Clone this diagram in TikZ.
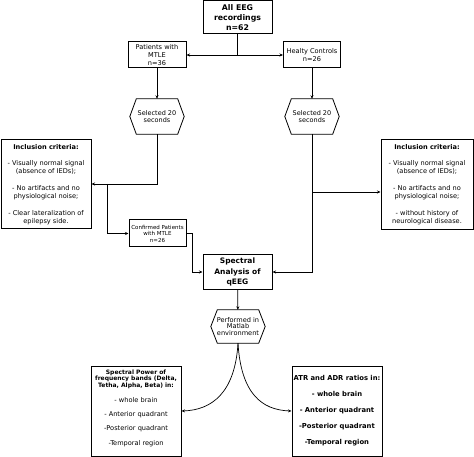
\documentclass[tikz,border=0pt]{standalone}
\usepackage{fontspec}
\setmainfont{DejaVu Sans}
\usepackage{tikz}
\usetikzlibrary {arrows.meta}
\pgfmathsetmacro{\cut}{6.5}
\tikzset{
	box/.style = {draw, line width = 1pt, inner sep = 1pt, align = center},
	hexbox/.style = {inner sep = 0pt, align = center, minimum width = 54pt},
	wire/.style = {line width = .7pt},
	flow/.style = {line width = .7pt, arrows = {-Stealth[length = 3.5pt, width = 3pt]}},
}
\newcommand{\drawhex}[1]{\draw[line width = .8pt] (#1.west) -- ([xshift = \cut pt]#1.north west) -- ([xshift = -\cut pt]#1.north east) -- (#1.east) -- ([xshift = -\cut pt]#1.south east) -- ([xshift = \cut pt]#1.south west) -- cycle;}
\newcommand{\boxhead}[1]{{\fontsize{6}{6.7}\selectfont\bfseries #1}}

\begin{document}
\begin{tikzpicture}[x = 1pt, y = -1pt]
		\useasboundingbox (0, 0) rectangle (474, 457);

		\node[box, minimum width = 69pt, minimum height = 33pt, font = \fontsize{7.8}{10}\selectfont\bfseries] (all) at (237.5, 17.5) {All EEG\\recordings\\n=62};
		\node[box, minimum width = 58pt, minimum height = 26pt, font = \fontsize{6.6}{8.2}\selectfont] (patients) at (157, 55) {Patients with\\MTLE\\n=36};
		\node[box, minimum width = 57pt, minimum height = 26pt, font = \fontsize{6.6}{8.2}\selectfont] (healthy) at (312, 55) {Healty Controls\\n=26};

		\node[hexbox, minimum height = 35pt, font = \fontsize{6.5}{7.8}\selectfont] (selP) at (157, 116.5) {Selected 20\\seconds};
		\node[hexbox, minimum height = 35pt, font = \fontsize{6.5}{7.8}\selectfont] (selH) at (312, 116.5) {Selected 20\\seconds};
		\drawhex{selP}
		\drawhex{selH}

		\node[box, minimum width = 90pt, minimum height = 89pt, font = \fontsize{6.6}{8.3}\selectfont] (inclP) at (46, 184.5) {\textbf{Inclusion criteria:}\\[7.7pt]- Visually normal signal\\(absence of IEDs);\\[8.4pt]- No artifacts and no\\physiological noise;\\[8.4pt]- Clear lateralization of\\epilepsy side.};
		\node[box, minimum width = 92pt, minimum height = 90pt, font = \fontsize{6.6}{8.3}\selectfont] (inclH) at (427, 185) {\textbf{Inclusion criteria:}\\[7.7pt]- Visually normal signal\\(absence of IEDs);\\[8.4pt]- No artifacts and no\\physiological noise;\\[8.4pt]- without history of\\neurological disease.};

		\node[box, minimum width = 57pt, minimum height = 27pt, font = \fontsize{5.5}{6.5}\selectfont] (confirmed) at (157.5, 233.5) {Confirmed Patients\\with MTLE\\n=26};
		\node[box, minimum width = 69pt, minimum height = 34pt, font = \fontsize{7.5}{10.5}\selectfont\bfseries] (spectral) at (237.5, 272) {Spectral\\Analysis of\\qEEG};

		\node[hexbox, minimum height = 33pt, font = \fontsize{6.6}{6.8}\selectfont] (matlab) at (238, 326.5) {Performed in\\Matlab\\environment};
		\drawhex{matlab}

		\node[box, minimum width = 90pt, minimum height = 90pt, font = \fontsize{6.6}{6.7}\selectfont] (power) at (136, 411) {\boxhead{Spectral Power of}\\\boxhead{frequency bands (Delta,}\\\boxhead{Tetha, Alpha, Beta) in:}\\[8pt]- whole brain\\[7.6pt]- Anterior quadrant\\[7.6pt]-Posterior quadrant\\[7.6pt]-Temporal region\rule[-7.5pt]{0pt}{7.5pt}};
		\node[box, minimum width = 90pt, minimum height = 90pt, font = \fontsize{6.8}{8}\selectfont\bfseries] (ratios) at (337, 411) {ATR and ADR ratios in:\\[8pt]- whole brain\\[8pt]- Anterior quadrant\\[8pt]-Posterior quadrant\\[8pt]-Temporal region};

		\coordinate (split) at (237.5, 55);
		\coordinate (kneeP) at (157, 184);
		\coordinate (forkP) at (107, 184);
		\coordinate (forkH) at (312, 192);

		\draw[wire] (all) -- (split);
		\draw[flow] (split) -- (patients);
		\draw[flow] (split) -- (healthy);
		\draw[flow] (patients) -- (selP);
		\draw[flow] (healthy) -- (selH);

		\draw[flow] (selP) -- (kneeP) -- (inclP.east |- kneeP);
		\draw[flow] (forkP) |- (confirmed);
		\draw[flow] (confirmed.east) -- ++(6, 0) |- (spectral);

		\draw[flow] (selH) |- (spectral);
		\draw[flow] (forkH) -- (forkH -| inclH.west);

		\draw[flow] (spectral) -- (matlab);
		\draw[flow] (matlab.south) .. controls +(-3, 50) and +(30, -1) .. (power.east);
		\draw[flow] (matlab.south) .. controls +(3, 50) and +(-30, -1) .. (ratios.west);

	\end{tikzpicture}
\end{document}
